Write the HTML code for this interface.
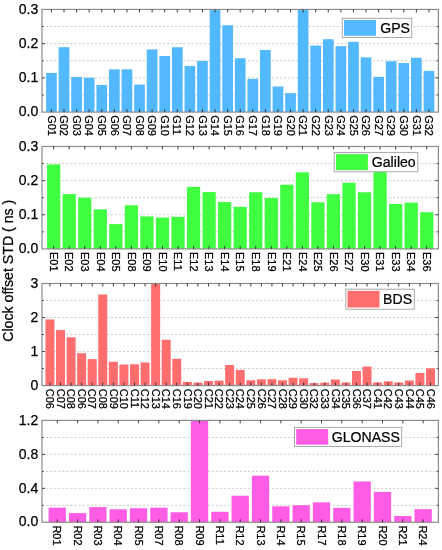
<!DOCTYPE html>
<html><head><meta charset="utf-8"><title>Clock offset STD</title>
<style>html,body{margin:0;padding:0;background:#fff;}body{width:442px;height:550px;overflow:hidden;}svg{display:block;}text{stroke:#000;stroke-width:0.25px;}</style>
</head><body>
<svg width="442" height="550" viewBox="0 0 442 550" font-family='"Liberation Sans", Arial, sans-serif' fill="#000">
<rect width="442" height="550" fill="#fff"/>
<clipPath id="c0"><rect x="42" y="9.45" width="396.4" height="102.65"/></clipPath>
<line x1="46.3" y1="94.99" x2="437.4" y2="94.99" stroke="#cacaca" stroke-width="1" stroke-dasharray="2 2.033"/>
<line x1="46.3" y1="77.88" x2="437.4" y2="77.88" stroke="#cacaca" stroke-width="1" stroke-dasharray="2 2.033"/>
<line x1="46.3" y1="60.77" x2="437.4" y2="60.77" stroke="#cacaca" stroke-width="1" stroke-dasharray="2 2.033"/>
<line x1="46.3" y1="43.67" x2="437.4" y2="43.67" stroke="#cacaca" stroke-width="1" stroke-dasharray="2 2.033"/>
<line x1="46.3" y1="26.56" x2="437.4" y2="26.56" stroke="#cacaca" stroke-width="1" stroke-dasharray="2 2.033"/>
<g clip-path="url(#c0)" fill="#52B9FF">
<rect x="46.09" y="72.92" width="10.7" height="39.18"/>
<rect x="58.67" y="47.23" width="10.7" height="64.87"/>
<rect x="71.26" y="77.03" width="10.7" height="35.07"/>
<rect x="83.84" y="77.71" width="10.7" height="34.39"/>
<rect x="96.43" y="84.9" width="10.7" height="27.2"/>
<rect x="109.01" y="69.33" width="10.7" height="42.77"/>
<rect x="121.59" y="69.33" width="10.7" height="42.77"/>
<rect x="134.18" y="84.52" width="10.7" height="27.58"/>
<rect x="146.76" y="49.42" width="10.7" height="62.68"/>
<rect x="159.35" y="56.02" width="10.7" height="56.08"/>
<rect x="171.93" y="47.23" width="10.7" height="64.87"/>
<rect x="184.52" y="65.91" width="10.7" height="46.19"/>
<rect x="197.1" y="61.01" width="10.7" height="51.09"/>
<rect x="209.68" y="-24.77" width="10.7" height="136.87"/>
<rect x="222.27" y="25.22" width="10.7" height="86.88"/>
<rect x="234.85" y="58.21" width="10.7" height="53.89"/>
<rect x="247.44" y="78.81" width="10.7" height="33.29"/>
<rect x="260.02" y="49.93" width="10.7" height="62.17"/>
<rect x="272.6" y="86.51" width="10.7" height="25.59"/>
<rect x="285.19" y="93.11" width="10.7" height="18.99"/>
<rect x="297.77" y="-24.77" width="10.7" height="136.87"/>
<rect x="310.36" y="45.62" width="10.7" height="66.48"/>
<rect x="322.94" y="39.22" width="10.7" height="72.88"/>
<rect x="335.52" y="46.13" width="10.7" height="65.97"/>
<rect x="348.11" y="41.82" width="10.7" height="70.28"/>
<rect x="360.69" y="57.42" width="10.7" height="54.68"/>
<rect x="373.28" y="76.82" width="10.7" height="35.28"/>
<rect x="385.86" y="61.22" width="10.7" height="50.88"/>
<rect x="398.45" y="63.03" width="10.7" height="49.07"/>
<rect x="411.03" y="57.73" width="10.7" height="54.37"/>
<rect x="423.61" y="70.9" width="10.7" height="41.2"/>
</g>
<rect x="42" y="9.45" width="396.4" height="102.65" fill="none" stroke="#8c8c8c" stroke-width="1.2"/>
<path d="M51.44 9.45v3M51.44 112.1v-3M64.02 9.45v3M64.02 112.1v-3M76.61 9.45v3M76.61 112.1v-3M89.19 9.45v3M89.19 112.1v-3M101.77 9.45v3M101.77 112.1v-3M114.36 9.45v3M114.36 112.1v-3M126.94 9.45v3M126.94 112.1v-3M139.53 9.45v3M139.53 112.1v-3M152.11 9.45v3M152.11 112.1v-3M164.7 9.45v3M164.7 112.1v-3M177.28 9.45v3M177.28 112.1v-3M189.86 9.45v3M189.86 112.1v-3M202.45 9.45v3M202.45 112.1v-3M215.03 9.45v3M215.03 112.1v-3M227.62 9.45v3M227.62 112.1v-3M240.2 9.45v3M240.2 112.1v-3M252.78 9.45v3M252.78 112.1v-3M265.37 9.45v3M265.37 112.1v-3M277.95 9.45v3M277.95 112.1v-3M290.54 9.45v3M290.54 112.1v-3M303.12 9.45v3M303.12 112.1v-3M315.7 9.45v3M315.7 112.1v-3M328.29 9.45v3M328.29 112.1v-3M340.87 9.45v3M340.87 112.1v-3M353.46 9.45v3M353.46 112.1v-3M366.04 9.45v3M366.04 112.1v-3M378.63 9.45v3M378.63 112.1v-3M391.21 9.45v3M391.21 112.1v-3M403.79 9.45v3M403.79 112.1v-3M416.38 9.45v3M416.38 112.1v-3M428.96 9.45v3M428.96 112.1v-3M42 94.99h1.8M438.4 94.99h-1.8M42 77.88h3M438.4 77.88h-3M42 60.77h1.8M438.4 60.77h-1.8M42 43.67h3M438.4 43.67h-3M42 26.56h1.8M438.4 26.56h-1.8" stroke="#2a2a2a" stroke-width="0.9" fill="none"/>
<text x="38.3" y="116.29" text-anchor="end" font-size="14">0.0</text>
<text x="38.3" y="82.07" text-anchor="end" font-size="14">0.1</text>
<text x="38.3" y="47.86" text-anchor="end" font-size="14">0.2</text>
<text x="38.3" y="13.64" text-anchor="end" font-size="14">0.3</text>
<text transform="translate(47.65,115.2) rotate(90) scale(1,1.0)" font-size="11.0">G01</text>
<text transform="translate(60.23,115.2) rotate(90) scale(1,1.0)" font-size="11.0">G02</text>
<text transform="translate(72.82,115.2) rotate(90) scale(1,1.0)" font-size="11.0">G03</text>
<text transform="translate(85.4,115.2) rotate(90) scale(1,1.0)" font-size="11.0">G04</text>
<text transform="translate(97.99,115.2) rotate(90) scale(1,1.0)" font-size="11.0">G05</text>
<text transform="translate(110.57,115.2) rotate(90) scale(1,1.0)" font-size="11.0">G06</text>
<text transform="translate(123.15,115.2) rotate(90) scale(1,1.0)" font-size="11.0">G07</text>
<text transform="translate(135.74,115.2) rotate(90) scale(1,1.0)" font-size="11.0">G08</text>
<text transform="translate(148.32,115.2) rotate(90) scale(1,1.0)" font-size="11.0">G09</text>
<text transform="translate(160.91,115.2) rotate(90) scale(1,1.0)" font-size="11.0">G10</text>
<text transform="translate(173.49,115.2) rotate(90) scale(1,1.0)" font-size="11.0">G11</text>
<text transform="translate(186.08,115.2) rotate(90) scale(1,1.0)" font-size="11.0">G12</text>
<text transform="translate(198.66,115.2) rotate(90) scale(1,1.0)" font-size="11.0">G13</text>
<text transform="translate(211.24,115.2) rotate(90) scale(1,1.0)" font-size="11.0">G14</text>
<text transform="translate(223.83,115.2) rotate(90) scale(1,1.0)" font-size="11.0">G15</text>
<text transform="translate(236.41,115.2) rotate(90) scale(1,1.0)" font-size="11.0">G16</text>
<text transform="translate(249,115.2) rotate(90) scale(1,1.0)" font-size="11.0">G17</text>
<text transform="translate(261.58,115.2) rotate(90) scale(1,1.0)" font-size="11.0">G18</text>
<text transform="translate(274.16,115.2) rotate(90) scale(1,1.0)" font-size="11.0">G19</text>
<text transform="translate(286.75,115.2) rotate(90) scale(1,1.0)" font-size="11.0">G20</text>
<text transform="translate(299.33,115.2) rotate(90) scale(1,1.0)" font-size="11.0">G21</text>
<text transform="translate(311.92,115.2) rotate(90) scale(1,1.0)" font-size="11.0">G22</text>
<text transform="translate(324.5,115.2) rotate(90) scale(1,1.0)" font-size="11.0">G23</text>
<text transform="translate(337.09,115.2) rotate(90) scale(1,1.0)" font-size="11.0">G24</text>
<text transform="translate(349.67,115.2) rotate(90) scale(1,1.0)" font-size="11.0">G25</text>
<text transform="translate(362.25,115.2) rotate(90) scale(1,1.0)" font-size="11.0">G26</text>
<text transform="translate(374.84,115.2) rotate(90) scale(1,1.0)" font-size="11.0">G27</text>
<text transform="translate(387.42,115.2) rotate(90) scale(1,1.0)" font-size="11.0">G29</text>
<text transform="translate(400.01,115.2) rotate(90) scale(1,1.0)" font-size="11.0">G30</text>
<text transform="translate(412.59,115.2) rotate(90) scale(1,1.0)" font-size="11.0">G31</text>
<text transform="translate(425.17,115.2) rotate(90) scale(1,1.0)" font-size="11.0">G32</text>
<rect x="342.3" y="18.3" width="69.4" height="19.2" fill="#fff" stroke="#a0a0a0" stroke-width="0.9"/>
<rect x="344" y="20" width="32" height="15.8" fill="#52B9FF"/>
<text transform="translate(410,33.07) scale(0.94,1)" text-anchor="end" font-size="15.0">GPS</text>
<clipPath id="c1"><rect x="42" y="146.5" width="396.4" height="102.4"/></clipPath>
<line x1="46.3" y1="231.83" x2="437.4" y2="231.83" stroke="#cacaca" stroke-width="1" stroke-dasharray="2 2.033"/>
<line x1="46.3" y1="214.77" x2="437.4" y2="214.77" stroke="#cacaca" stroke-width="1" stroke-dasharray="2 2.033"/>
<line x1="46.3" y1="197.7" x2="437.4" y2="197.7" stroke="#cacaca" stroke-width="1" stroke-dasharray="2 2.033"/>
<line x1="46.3" y1="180.63" x2="437.4" y2="180.63" stroke="#cacaca" stroke-width="1" stroke-dasharray="2 2.033"/>
<line x1="46.3" y1="163.57" x2="437.4" y2="163.57" stroke="#cacaca" stroke-width="1" stroke-dasharray="2 2.033"/>
<g clip-path="url(#c1)" fill="#40FF40">
<rect x="47.05" y="164.39" width="13.21" height="84.51"/>
<rect x="62.6" y="194.08" width="13.21" height="54.82"/>
<rect x="78.14" y="197.7" width="13.21" height="51.2"/>
<rect x="93.69" y="209.34" width="13.21" height="39.56"/>
<rect x="109.23" y="224.09" width="13.21" height="24.81"/>
<rect x="124.78" y="205.21" width="13.21" height="43.69"/>
<rect x="140.32" y="216.37" width="13.21" height="32.53"/>
<rect x="155.87" y="217.5" width="13.21" height="31.4"/>
<rect x="171.41" y="216.78" width="13.21" height="32.12"/>
<rect x="186.96" y="186.85" width="13.21" height="62.05"/>
<rect x="202.5" y="192.07" width="13.21" height="56.83"/>
<rect x="218.05" y="202" width="13.21" height="46.9"/>
<rect x="233.59" y="206.85" width="13.21" height="42.05"/>
<rect x="249.14" y="192.27" width="13.21" height="56.63"/>
<rect x="264.68" y="198.01" width="13.21" height="50.89"/>
<rect x="280.23" y="184.76" width="13.21" height="64.14"/>
<rect x="295.77" y="172.3" width="13.21" height="76.6"/>
<rect x="311.32" y="202.31" width="13.21" height="46.59"/>
<rect x="326.86" y="194.18" width="13.21" height="54.72"/>
<rect x="342.41" y="182.75" width="13.21" height="66.15"/>
<rect x="357.95" y="192.27" width="13.21" height="56.63"/>
<rect x="373.5" y="166.98" width="13.21" height="81.92"/>
<rect x="389.04" y="204.01" width="13.21" height="44.89"/>
<rect x="404.59" y="202.62" width="13.21" height="46.28"/>
<rect x="420.13" y="212.24" width="13.21" height="36.66"/>
</g>
<rect x="42" y="146.5" width="396.4" height="102.4" fill="none" stroke="#8c8c8c" stroke-width="1.2"/>
<path d="M53.66 146.5v3M53.66 248.9v-3M69.2 146.5v3M69.2 248.9v-3M84.75 146.5v3M84.75 248.9v-3M100.29 146.5v3M100.29 248.9v-3M115.84 146.5v3M115.84 248.9v-3M131.38 146.5v3M131.38 248.9v-3M146.93 146.5v3M146.93 248.9v-3M162.47 146.5v3M162.47 248.9v-3M178.02 146.5v3M178.02 248.9v-3M193.56 146.5v3M193.56 248.9v-3M209.11 146.5v3M209.11 248.9v-3M224.65 146.5v3M224.65 248.9v-3M240.2 146.5v3M240.2 248.9v-3M255.75 146.5v3M255.75 248.9v-3M271.29 146.5v3M271.29 248.9v-3M286.84 146.5v3M286.84 248.9v-3M302.38 146.5v3M302.38 248.9v-3M317.93 146.5v3M317.93 248.9v-3M333.47 146.5v3M333.47 248.9v-3M349.02 146.5v3M349.02 248.9v-3M364.56 146.5v3M364.56 248.9v-3M380.11 146.5v3M380.11 248.9v-3M395.65 146.5v3M395.65 248.9v-3M411.2 146.5v3M411.2 248.9v-3M426.74 146.5v3M426.74 248.9v-3M42 231.83h1.8M438.4 231.83h-1.8M42 214.77h3M438.4 214.77h-3M42 197.7h1.8M438.4 197.7h-1.8M42 180.63h3M438.4 180.63h-3M42 163.57h1.8M438.4 163.57h-1.8" stroke="#2a2a2a" stroke-width="0.9" fill="none"/>
<text x="38.3" y="253.09" text-anchor="end" font-size="14">0.0</text>
<text x="38.3" y="218.96" text-anchor="end" font-size="14">0.1</text>
<text x="38.3" y="184.82" text-anchor="end" font-size="14">0.2</text>
<text x="38.3" y="150.69" text-anchor="end" font-size="14">0.3</text>
<text transform="translate(49.87,252) rotate(90) scale(1,1.0)" font-size="11.0">E01</text>
<text transform="translate(65.42,252) rotate(90) scale(1,1.0)" font-size="11.0">E02</text>
<text transform="translate(80.96,252) rotate(90) scale(1,1.0)" font-size="11.0">E03</text>
<text transform="translate(96.51,252) rotate(90) scale(1,1.0)" font-size="11.0">E04</text>
<text transform="translate(112.05,252) rotate(90) scale(1,1.0)" font-size="11.0">E05</text>
<text transform="translate(127.6,252) rotate(90) scale(1,1.0)" font-size="11.0">E08</text>
<text transform="translate(143.14,252) rotate(90) scale(1,1.0)" font-size="11.0">E09</text>
<text transform="translate(158.69,252) rotate(90) scale(1,1.0)" font-size="11.0">E10</text>
<text transform="translate(174.23,252) rotate(90) scale(1,1.0)" font-size="11.0">E11</text>
<text transform="translate(189.78,252) rotate(90) scale(1,1.0)" font-size="11.0">E12</text>
<text transform="translate(205.32,252) rotate(90) scale(1,1.0)" font-size="11.0">E13</text>
<text transform="translate(220.87,252) rotate(90) scale(1,1.0)" font-size="11.0">E14</text>
<text transform="translate(236.41,252) rotate(90) scale(1,1.0)" font-size="11.0">E15</text>
<text transform="translate(251.96,252) rotate(90) scale(1,1.0)" font-size="11.0">E18</text>
<text transform="translate(267.5,252) rotate(90) scale(1,1.0)" font-size="11.0">E19</text>
<text transform="translate(283.05,252) rotate(90) scale(1,1.0)" font-size="11.0">E21</text>
<text transform="translate(298.59,252) rotate(90) scale(1,1.0)" font-size="11.0">E24</text>
<text transform="translate(314.14,252) rotate(90) scale(1,1.0)" font-size="11.0">E25</text>
<text transform="translate(329.68,252) rotate(90) scale(1,1.0)" font-size="11.0">E26</text>
<text transform="translate(345.23,252) rotate(90) scale(1,1.0)" font-size="11.0">E27</text>
<text transform="translate(360.77,252) rotate(90) scale(1,1.0)" font-size="11.0">E30</text>
<text transform="translate(376.32,252) rotate(90) scale(1,1.0)" font-size="11.0">E31</text>
<text transform="translate(391.86,252) rotate(90) scale(1,1.0)" font-size="11.0">E33</text>
<text transform="translate(407.41,252) rotate(90) scale(1,1.0)" font-size="11.0">E34</text>
<text transform="translate(422.95,252) rotate(90) scale(1,1.0)" font-size="11.0">E36</text>
<rect x="334.2" y="152.4" width="83.6" height="19.4" fill="#fff" stroke="#a0a0a0" stroke-width="0.9"/>
<rect x="335.9" y="154.1" width="32" height="16" fill="#40FF40"/>
<text transform="translate(415.7,167.27) scale(0.94,1)" text-anchor="end" font-size="15.0">Galileo</text>
<clipPath id="c2"><rect x="42" y="283.5" width="396.4" height="102.1"/></clipPath>
<line x1="46.3" y1="368.58" x2="437.4" y2="368.58" stroke="#cacaca" stroke-width="1" stroke-dasharray="2 2.033"/>
<line x1="46.3" y1="351.57" x2="437.4" y2="351.57" stroke="#cacaca" stroke-width="1" stroke-dasharray="2 2.033"/>
<line x1="46.3" y1="334.55" x2="437.4" y2="334.55" stroke="#cacaca" stroke-width="1" stroke-dasharray="2 2.033"/>
<line x1="46.3" y1="317.53" x2="437.4" y2="317.53" stroke="#cacaca" stroke-width="1" stroke-dasharray="2 2.033"/>
<line x1="46.3" y1="300.52" x2="437.4" y2="300.52" stroke="#cacaca" stroke-width="1" stroke-dasharray="2 2.033"/>
<g clip-path="url(#c2)" fill="#FF6E6E">
<rect x="45.44" y="319.44" width="8.99" height="66.16"/>
<rect x="56.01" y="330.06" width="8.99" height="55.54"/>
<rect x="66.58" y="337.27" width="8.99" height="48.33"/>
<rect x="77.15" y="353.17" width="8.99" height="32.43"/>
<rect x="87.72" y="359.09" width="8.99" height="26.51"/>
<rect x="98.29" y="294.53" width="8.99" height="91.07"/>
<rect x="108.86" y="361.78" width="8.99" height="23.82"/>
<rect x="119.43" y="364.5" width="8.99" height="21.1"/>
<rect x="130" y="364.3" width="8.99" height="21.3"/>
<rect x="140.57" y="362.46" width="8.99" height="23.14"/>
<rect x="151.14" y="266.48" width="8.99" height="119.12"/>
<rect x="161.71" y="339.76" width="8.99" height="45.84"/>
<rect x="172.28" y="358.78" width="8.99" height="26.82"/>
<rect x="182.85" y="381.89" width="8.99" height="3.71"/>
<rect x="193.42" y="382.61" width="8.99" height="2.99"/>
<rect x="204" y="381.01" width="8.99" height="4.59"/>
<rect x="214.57" y="380.6" width="8.99" height="5"/>
<rect x="225.14" y="365.01" width="8.99" height="20.59"/>
<rect x="235.71" y="369.88" width="8.99" height="15.72"/>
<rect x="246.28" y="380.29" width="8.99" height="5.31"/>
<rect x="256.85" y="379.3" width="8.99" height="6.3"/>
<rect x="267.42" y="379.1" width="8.99" height="6.5"/>
<rect x="277.99" y="380.29" width="8.99" height="5.31"/>
<rect x="288.56" y="377.81" width="8.99" height="7.79"/>
<rect x="299.13" y="378.28" width="8.99" height="7.32"/>
<rect x="309.7" y="383.08" width="8.99" height="2.52"/>
<rect x="320.27" y="382.61" width="8.99" height="2.99"/>
<rect x="330.84" y="379.51" width="8.99" height="6.09"/>
<rect x="341.41" y="382.5" width="8.99" height="3.1"/>
<rect x="351.98" y="370.9" width="8.99" height="14.7"/>
<rect x="362.56" y="366.58" width="8.99" height="19.02"/>
<rect x="373.13" y="382.5" width="8.99" height="3.1"/>
<rect x="383.7" y="381.31" width="8.99" height="4.29"/>
<rect x="394.27" y="382.5" width="8.99" height="3.1"/>
<rect x="404.84" y="380.5" width="8.99" height="5.11"/>
<rect x="415.41" y="372.91" width="8.99" height="12.69"/>
<rect x="425.98" y="368.31" width="8.99" height="17.29"/>
</g>
<rect x="42" y="283.5" width="396.4" height="102.1" fill="none" stroke="#8c8c8c" stroke-width="1.2"/>
<path d="M49.93 283.5v3M49.93 385.6v-3M60.5 283.5v3M60.5 385.6v-3M71.07 283.5v3M71.07 385.6v-3M81.64 283.5v3M81.64 385.6v-3M92.21 283.5v3M92.21 385.6v-3M102.78 283.5v3M102.78 385.6v-3M113.35 283.5v3M113.35 385.6v-3M123.92 283.5v3M123.92 385.6v-3M134.49 283.5v3M134.49 385.6v-3M145.06 283.5v3M145.06 385.6v-3M155.63 283.5v3M155.63 385.6v-3M166.21 283.5v3M166.21 385.6v-3M176.78 283.5v3M176.78 385.6v-3M187.35 283.5v3M187.35 385.6v-3M197.92 283.5v3M197.92 385.6v-3M208.49 283.5v3M208.49 385.6v-3M219.06 283.5v3M219.06 385.6v-3M229.63 283.5v3M229.63 385.6v-3M240.2 283.5v3M240.2 385.6v-3M250.77 283.5v3M250.77 385.6v-3M261.34 283.5v3M261.34 385.6v-3M271.91 283.5v3M271.91 385.6v-3M282.48 283.5v3M282.48 385.6v-3M293.05 283.5v3M293.05 385.6v-3M303.62 283.5v3M303.62 385.6v-3M314.19 283.5v3M314.19 385.6v-3M324.77 283.5v3M324.77 385.6v-3M335.34 283.5v3M335.34 385.6v-3M345.91 283.5v3M345.91 385.6v-3M356.48 283.5v3M356.48 385.6v-3M367.05 283.5v3M367.05 385.6v-3M377.62 283.5v3M377.62 385.6v-3M388.19 283.5v3M388.19 385.6v-3M398.76 283.5v3M398.76 385.6v-3M409.33 283.5v3M409.33 385.6v-3M419.9 283.5v3M419.9 385.6v-3M430.47 283.5v3M430.47 385.6v-3M42 368.58h1.8M438.4 368.58h-1.8M42 351.57h3M438.4 351.57h-3M42 334.55h1.8M438.4 334.55h-1.8M42 317.53h3M438.4 317.53h-3M42 300.52h1.8M438.4 300.52h-1.8" stroke="#2a2a2a" stroke-width="0.9" fill="none"/>
<text x="38.3" y="389.79" text-anchor="end" font-size="14">0</text>
<text x="38.3" y="355.76" text-anchor="end" font-size="14">1</text>
<text x="38.3" y="321.72" text-anchor="end" font-size="14">2</text>
<text x="38.3" y="287.69" text-anchor="end" font-size="14">3</text>
<text transform="translate(46.14,388.7) rotate(90) scale(1,1.0)" font-size="11.0">C06</text>
<text transform="translate(56.71,388.7) rotate(90) scale(1,1.0)" font-size="11.0">C07</text>
<text transform="translate(67.28,388.7) rotate(90) scale(1,1.0)" font-size="11.0">C08</text>
<text transform="translate(77.85,388.7) rotate(90) scale(1,1.0)" font-size="11.0">C06</text>
<text transform="translate(88.42,388.7) rotate(90) scale(1,1.0)" font-size="11.0">C07</text>
<text transform="translate(98.99,388.7) rotate(90) scale(1,1.0)" font-size="11.0">C08</text>
<text transform="translate(109.56,388.7) rotate(90) scale(1,1.0)" font-size="11.0">C09</text>
<text transform="translate(120.13,388.7) rotate(90) scale(1,1.0)" font-size="11.0">C10</text>
<text transform="translate(130.71,388.7) rotate(90) scale(1,1.0)" font-size="11.0">C11</text>
<text transform="translate(141.28,388.7) rotate(90) scale(1,1.0)" font-size="11.0">C12</text>
<text transform="translate(151.85,388.7) rotate(90) scale(1,1.0)" font-size="11.0">C13</text>
<text transform="translate(162.42,388.7) rotate(90) scale(1,1.0)" font-size="11.0">C14</text>
<text transform="translate(172.99,388.7) rotate(90) scale(1,1.0)" font-size="11.0">C16</text>
<text transform="translate(183.56,388.7) rotate(90) scale(1,1.0)" font-size="11.0">C19</text>
<text transform="translate(194.13,388.7) rotate(90) scale(1,1.0)" font-size="11.0">C20</text>
<text transform="translate(204.7,388.7) rotate(90) scale(1,1.0)" font-size="11.0">C21</text>
<text transform="translate(215.27,388.7) rotate(90) scale(1,1.0)" font-size="11.0">C22</text>
<text transform="translate(225.84,388.7) rotate(90) scale(1,1.0)" font-size="11.0">C23</text>
<text transform="translate(236.41,388.7) rotate(90) scale(1,1.0)" font-size="11.0">C24</text>
<text transform="translate(246.98,388.7) rotate(90) scale(1,1.0)" font-size="11.0">C25</text>
<text transform="translate(257.55,388.7) rotate(90) scale(1,1.0)" font-size="11.0">C26</text>
<text transform="translate(268.12,388.7) rotate(90) scale(1,1.0)" font-size="11.0">C27</text>
<text transform="translate(278.69,388.7) rotate(90) scale(1,1.0)" font-size="11.0">C28</text>
<text transform="translate(289.27,388.7) rotate(90) scale(1,1.0)" font-size="11.0">C29</text>
<text transform="translate(299.84,388.7) rotate(90) scale(1,1.0)" font-size="11.0">C30</text>
<text transform="translate(310.41,388.7) rotate(90) scale(1,1.0)" font-size="11.0">C32</text>
<text transform="translate(320.98,388.7) rotate(90) scale(1,1.0)" font-size="11.0">C33</text>
<text transform="translate(331.55,388.7) rotate(90) scale(1,1.0)" font-size="11.0">C34</text>
<text transform="translate(342.12,388.7) rotate(90) scale(1,1.0)" font-size="11.0">C35</text>
<text transform="translate(352.69,388.7) rotate(90) scale(1,1.0)" font-size="11.0">C36</text>
<text transform="translate(363.26,388.7) rotate(90) scale(1,1.0)" font-size="11.0">C37</text>
<text transform="translate(373.83,388.7) rotate(90) scale(1,1.0)" font-size="11.0">C41</text>
<text transform="translate(384.4,388.7) rotate(90) scale(1,1.0)" font-size="11.0">C42</text>
<text transform="translate(394.97,388.7) rotate(90) scale(1,1.0)" font-size="11.0">C43</text>
<text transform="translate(405.54,388.7) rotate(90) scale(1,1.0)" font-size="11.0">C44</text>
<text transform="translate(416.11,388.7) rotate(90) scale(1,1.0)" font-size="11.0">C45</text>
<text transform="translate(426.68,388.7) rotate(90) scale(1,1.0)" font-size="11.0">C46</text>
<rect x="345.8" y="289.2" width="68.5" height="20" fill="#fff" stroke="#a0a0a0" stroke-width="0.9"/>
<rect x="347.5" y="290.9" width="32" height="16.6" fill="#FF6E6E"/>
<text transform="translate(412.1,304.37) scale(0.94,1)" text-anchor="end" font-size="15.0">BDS</text>
<clipPath id="c3"><rect x="42" y="420.4" width="396.4" height="101.9"/></clipPath>
<line x1="46.3" y1="505.32" x2="437.4" y2="505.32" stroke="#cacaca" stroke-width="1" stroke-dasharray="2 2.033"/>
<line x1="46.3" y1="488.33" x2="437.4" y2="488.33" stroke="#cacaca" stroke-width="1" stroke-dasharray="2 2.033"/>
<line x1="46.3" y1="471.35" x2="437.4" y2="471.35" stroke="#cacaca" stroke-width="1" stroke-dasharray="2 2.033"/>
<line x1="46.3" y1="454.37" x2="437.4" y2="454.37" stroke="#cacaca" stroke-width="1" stroke-dasharray="2 2.033"/>
<line x1="46.3" y1="437.38" x2="437.4" y2="437.38" stroke="#cacaca" stroke-width="1" stroke-dasharray="2 2.033"/>
<g clip-path="url(#c3)" fill="#FF5CE6">
<rect x="48.61" y="507.69" width="17.28" height="14.61"/>
<rect x="68.93" y="513.13" width="17.28" height="9.17"/>
<rect x="89.26" y="507.1" width="17.28" height="15.2"/>
<rect x="109.59" y="509.31" width="17.28" height="12.99"/>
<rect x="129.92" y="508.2" width="17.28" height="14.1"/>
<rect x="150.25" y="507.69" width="17.28" height="14.61"/>
<rect x="170.58" y="512.28" width="17.28" height="10.02"/>
<rect x="190.9" y="394.92" width="17.28" height="127.38"/>
<rect x="211.23" y="511.77" width="17.28" height="10.53"/>
<rect x="231.56" y="495.72" width="17.28" height="26.58"/>
<rect x="251.89" y="475.68" width="17.28" height="46.62"/>
<rect x="272.22" y="506.34" width="17.28" height="15.96"/>
<rect x="292.55" y="505.23" width="17.28" height="17.07"/>
<rect x="312.87" y="502.34" width="17.28" height="19.96"/>
<rect x="333.2" y="507.86" width="17.28" height="14.44"/>
<rect x="353.53" y="481.46" width="17.28" height="40.84"/>
<rect x="373.86" y="491.9" width="17.28" height="30.4"/>
<rect x="394.19" y="516.02" width="17.28" height="6.28"/>
<rect x="414.51" y="509.14" width="17.28" height="13.16"/>
</g>
<rect x="42" y="420.4" width="396.4" height="101.9" fill="none" stroke="#8c8c8c" stroke-width="1.2"/>
<path d="M57.25 420.4v3M57.25 522.3v-3M77.57 420.4v3M77.57 522.3v-3M97.9 420.4v3M97.9 522.3v-3M118.23 420.4v3M118.23 522.3v-3M138.56 420.4v3M138.56 522.3v-3M158.89 420.4v3M158.89 522.3v-3M179.22 420.4v3M179.22 522.3v-3M199.54 420.4v3M199.54 522.3v-3M219.87 420.4v3M219.87 522.3v-3M240.2 420.4v3M240.2 522.3v-3M260.53 420.4v3M260.53 522.3v-3M280.86 420.4v3M280.86 522.3v-3M301.18 420.4v3M301.18 522.3v-3M321.51 420.4v3M321.51 522.3v-3M341.84 420.4v3M341.84 522.3v-3M362.17 420.4v3M362.17 522.3v-3M382.5 420.4v3M382.5 522.3v-3M402.83 420.4v3M402.83 522.3v-3M423.15 420.4v3M423.15 522.3v-3M42 505.32h1.8M438.4 505.32h-1.8M42 488.33h3M438.4 488.33h-3M42 471.35h1.8M438.4 471.35h-1.8M42 454.37h3M438.4 454.37h-3M42 437.38h1.8M438.4 437.38h-1.8" stroke="#2a2a2a" stroke-width="0.9" fill="none"/>
<text x="38.3" y="526.49" text-anchor="end" font-size="14">0.0</text>
<text x="38.3" y="492.52" text-anchor="end" font-size="14">0.4</text>
<text x="38.3" y="458.56" text-anchor="end" font-size="14">0.8</text>
<text x="38.3" y="424.59" text-anchor="end" font-size="14">1.2</text>
<text transform="translate(53.46,525.4) rotate(90) scale(1,1.0)" font-size="11.0">R01</text>
<text transform="translate(73.79,525.4) rotate(90) scale(1,1.0)" font-size="11.0">R02</text>
<text transform="translate(94.11,525.4) rotate(90) scale(1,1.0)" font-size="11.0">R03</text>
<text transform="translate(114.44,525.4) rotate(90) scale(1,1.0)" font-size="11.0">R04</text>
<text transform="translate(134.77,525.4) rotate(90) scale(1,1.0)" font-size="11.0">R05</text>
<text transform="translate(155.1,525.4) rotate(90) scale(1,1.0)" font-size="11.0">R07</text>
<text transform="translate(175.43,525.4) rotate(90) scale(1,1.0)" font-size="11.0">R08</text>
<text transform="translate(195.76,525.4) rotate(90) scale(1,1.0)" font-size="11.0">R09</text>
<text transform="translate(216.08,525.4) rotate(90) scale(1,1.0)" font-size="11.0">R11</text>
<text transform="translate(236.41,525.4) rotate(90) scale(1,1.0)" font-size="11.0">R12</text>
<text transform="translate(256.74,525.4) rotate(90) scale(1,1.0)" font-size="11.0">R13</text>
<text transform="translate(277.07,525.4) rotate(90) scale(1,1.0)" font-size="11.0">R14</text>
<text transform="translate(297.4,525.4) rotate(90) scale(1,1.0)" font-size="11.0">R15</text>
<text transform="translate(317.72,525.4) rotate(90) scale(1,1.0)" font-size="11.0">R17</text>
<text transform="translate(338.05,525.4) rotate(90) scale(1,1.0)" font-size="11.0">R18</text>
<text transform="translate(358.38,525.4) rotate(90) scale(1,1.0)" font-size="11.0">R19</text>
<text transform="translate(378.71,525.4) rotate(90) scale(1,1.0)" font-size="11.0">R20</text>
<text transform="translate(399.04,525.4) rotate(90) scale(1,1.0)" font-size="11.0">R21</text>
<text transform="translate(419.37,525.4) rotate(90) scale(1,1.0)" font-size="11.0">R24</text>
<rect x="294.5" y="427.4" width="107.2" height="19" fill="#fff" stroke="#a0a0a0" stroke-width="0.9"/>
<rect x="296.2" y="429.1" width="32" height="15.6" fill="#FF5CE6"/>
<text transform="translate(399.9,442.07) scale(0.94,1)" text-anchor="end" font-size="15.0">GLONASS</text>
<text transform="translate(13.3,270.75) rotate(-90) scale(0.963,1)" text-anchor="middle" font-size="14.7">Clock offset STD ( ns )</text>
</svg>
</body></html>
